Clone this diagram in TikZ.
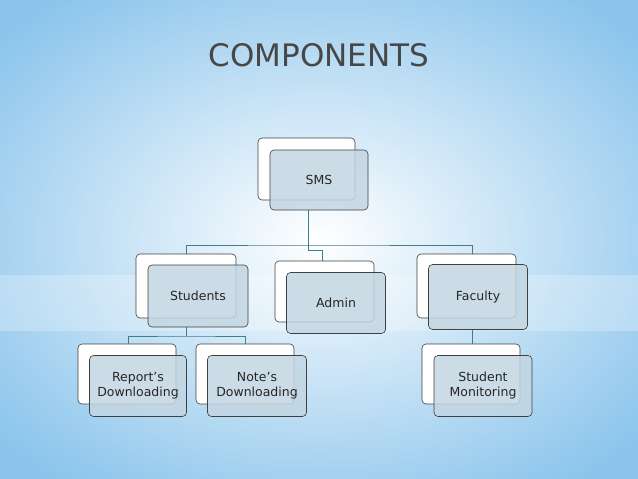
\documentclass[tikz,border=0pt]{standalone}
\usepackage{fontspec}
\setmainfont{DejaVu Sans}
\usetikzlibrary{calc}
\definecolor{bgout}{HTML}{8CC5EC}
\definecolor{frontc}{HTML}{C3D6E2}
\definecolor{linec}{HTML}{3F7F8C}
\tikzset{
 back/.style={draw=black!75, fill=white, rounded corners=4pt, line width=0.6pt},
 front/.style={draw=black!75, fill=frontc, fill opacity=0.85, text opacity=1, rounded corners=4pt, line width=0.6pt, font=\fontsize{12.5}{15}\selectfont, align=center, text=black!85},
 conn/.style={draw=linec, line width=0.9pt}
}
\begin{document}
\begin{tikzpicture}[x=1pt,y=-1pt]
\useasboundingbox (0,0) rectangle (638,479);
\shade[inner color=white, outer color=bgout] (-100,-60) rectangle (738,539);
\shade[top color=white, bottom color=white, middle color=white, opacity=0.25] (0,275) rectangle (638,330);
\node[font=\fontsize{31}{34}\selectfont, text=black!72] (title) at (319,55) {COMPONENTS};
% connectors
\coordinate (j1) at (308,245);
\draw[conn] (308,210) -- (j1);
\draw[conn] (186,254) |- (j1) -| (472,254);
\draw[conn] (j1) -- (308,250) -| (322,261);
% back boxes
\draw[back] (258,138) rectangle (355,200);
\draw[back] (136,254) rectangle (236,318);
\draw[back] (275,261) rectangle (374,322);
\draw[back] (417,254) rectangle (516,318);
\draw[back] (78,344) rectangle (176,404);
\draw[back] (196,344) rectangle (294,404);
\draw[back] (422,344) rectangle (520,404);
\draw[conn] (186,327) -- (186,336) coordinate (j2);
\draw[conn] (128,344) |- (j2) -| (245,344);
\draw[conn] (472,330) -- (472,344);
% front boxes
\node[front, minimum width=98pt, minimum height=60pt] (sms) at (319,180) {SMS};
\node[front, minimum width=100pt, minimum height=62pt] (stu) at (198,296) {Students};
\node[front, minimum width=99pt, minimum height=61pt] (adm) at (336,303) {Admin};
\node[front, minimum width=99pt, minimum height=65pt] (fac) at (478,297) {Faculty};
\node[front, minimum width=97pt, minimum height=61pt] (rep) at (138,386) {Report’s\\Downloading};
\node[front, minimum width=99pt, minimum height=61pt] (note) at (257,386) {Note’s\\Downloading};
\node[front, minimum width=98pt, minimum height=61pt] (mon) at (483,386) {Student\\Monitoring};
\end{tikzpicture}
\end{document}
